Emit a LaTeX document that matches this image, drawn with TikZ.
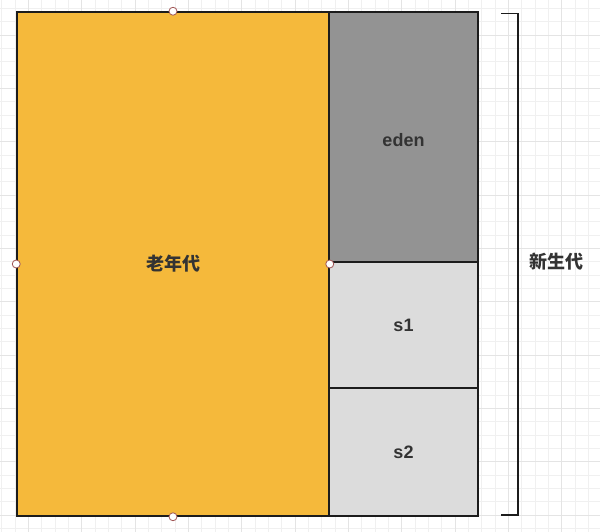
\documentclass[tikz,border=0pt]{standalone}
\usepackage{fontspec}
\setmainfont{Liberation Sans}
\newfontfamily\cjk{Noto Sans CJK SC}
\definecolor{oldgen}{HTML}{F5B93B}
\definecolor{edengray}{HTML}{939393}
\definecolor{survgray}{HTML}{DCDCDC}
\definecolor{edgeline}{HTML}{1C1C1C}
\definecolor{labeltext}{HTML}{333333}
\definecolor{handle}{HTML}{A05555}
\tikzset{
  gridminor/.style={draw={rgb,255:red,240;green,240;blue,240},line width=0.8pt},
  gridmajor/.style={draw={rgb,255:red,228;green,228;blue,228},line width=0.8pt},
  area/.style={draw=edgeline,line width=1.5pt,inner sep=0pt,
    font=\fontsize{18}{21}\selectfont\bfseries,text=labeltext},
  grip/.style={circle,draw=handle,fill=white,line width=0.8pt,inner sep=0pt,minimum size=8pt}
}
\begin{document}
\begin{tikzpicture}[x=1pt,y=-1pt]
\useasboundingbox (0,0) rectangle (600,532);
%背景网格
\foreach \i in {0,...,44} \draw[gridminor] (1.67+13.333*\i,0) -- (1.67+13.333*\i,532);
\foreach \i in {0,...,39} \draw[gridminor] (0,8.33+13.333*\i) -- (600,8.33+13.333*\i);
\foreach \i in {0,...,10} \draw[gridmajor] (28.33+53.333*\i,0) -- (28.33+53.333*\i,532);
\foreach \i in {0,...,9} \draw[gridmajor] (0,35+53.333*\i) -- (600,35+53.333*\i);
%老年代
\node[area,fill=oldgen,minimum width=312pt,minimum height=504pt] (old) at (173,264) {\cjk 老年代};
%新生代: eden s1 s2
\node[area,fill=edengray,minimum width=149pt,minimum height=250pt] (eden) at (403.5,137) {\raisebox{-9.5pt}[0pt][0pt]{eden}};
\node[area,fill=survgray,minimum width=149pt,minimum height=126pt] (sone) at (403.5,325) {s1};
\node[area,fill=survgray,minimum width=149pt,minimum height=128pt] (stwo) at (403.5,452) {s2};
%选中的控制点
\node[grip] (gn) at (old.north) {};
\node[grip] (gs) at (old.south) {};
\node[grip] (gw) at (old.west) {};
\node[grip] (ge) at (old.east) {};
%右侧括号
\coordinate (bt) at (501,13.5);
\coordinate (bb) at (501,515);
\draw[edgeline,line width=1.5pt] (bt) -- ++(17,0) |- (bb);
\node[font=\fontsize{18}{21}\selectfont\bfseries,text=labeltext] (young) at (556,262) {\cjk 新生代};
\end{tikzpicture}
\end{document}
